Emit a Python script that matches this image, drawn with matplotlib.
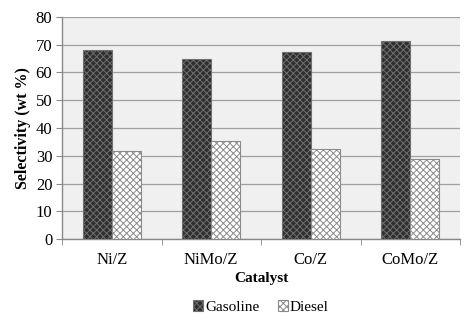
import numpy as np
import matplotlib
matplotlib.use("Agg")
from matplotlib import pyplot as plt

catalysts = ["Ni/Z", "NiMo/Z", "Co/Z", "CoMo/Z"]
gasoline = [68.0, 64.8, 67.3, 71.2]
diesel = [31.8, 35.2, 32.5, 28.8]
yticks = [0, 10, 20, 30, 40, 50, 60, 70, 80]

plt.rcParams["font.family"] = ["Liberation Serif", "DejaVu Serif"]
plt.rcParams["hatch.linewidth"] = 0.7

fig = plt.figure(figsize=(4.74, 3.23), dpi=100)
ax = fig.add_axes([62 / 474, 1 - 239 / 323, 398 / 474, 222 / 323])
ax.set_facecolor("#f0f0f0")

x = np.arange(len(catalysts))
w = 0.29
plt.rcParams["hatch.color"] = "#6a6a6a"
b1 = ax.bar(x - w / 2, gasoline, w, color="#2e2e2e", edgecolor="#707070",
            hatch="xxxxx", linewidth=0.8, label="Gasoline", zorder=3)
b2 = ax.bar(x + w / 2, diesel, w, color="#ffffff", edgecolor="#8a8a8a",
            hatch="xxxxx", linewidth=0.8, label="Diesel", zorder=3)

ax.set_xlim(-0.5, len(catalysts) - 0.5)
ax.set_ylim(0, 80)
ax.set_yticks(yticks)
ax.yaxis.grid(True, color="#a0a0a0", linewidth=0.9, zorder=0)
ax.set_axisbelow(True)

ax.set_xticks(x)
ax.set_xticklabels(catalysts, fontsize=12)
ax.set_xticks(np.arange(-0.5, len(catalysts), 1.0), minor=True)
ax.tick_params(axis="x", which="major", length=0, pad=9)
ax.tick_params(axis="x", which="minor", length=4, color="#888888")
ax.tick_params(axis="y", length=4, color="#888888", labelsize=12, pad=3)

for s in ["top", "right"]:
    ax.spines[s].set_visible(False)
for s in ["left", "bottom"]:
    ax.spines[s].set_color("#888888")
    ax.spines[s].set_linewidth(1.0)

ax.set_ylabel("Selectivity (wt %)", fontsize=11.5, fontweight="bold", labelpad=3)
ax.set_xlabel("Catalyst", fontsize=11, fontweight="bold", labelpad=3)

fig.legend(handles=[b1, b2], loc="center", bbox_to_anchor=(0.55, 1 - 307 / 323),
           ncol=2, frameon=False, fontsize=11, handlelength=0.7, handleheight=0.7,
           handletextpad=0.1, columnspacing=1.2)

plt.savefig("out.png", dpi=100)
